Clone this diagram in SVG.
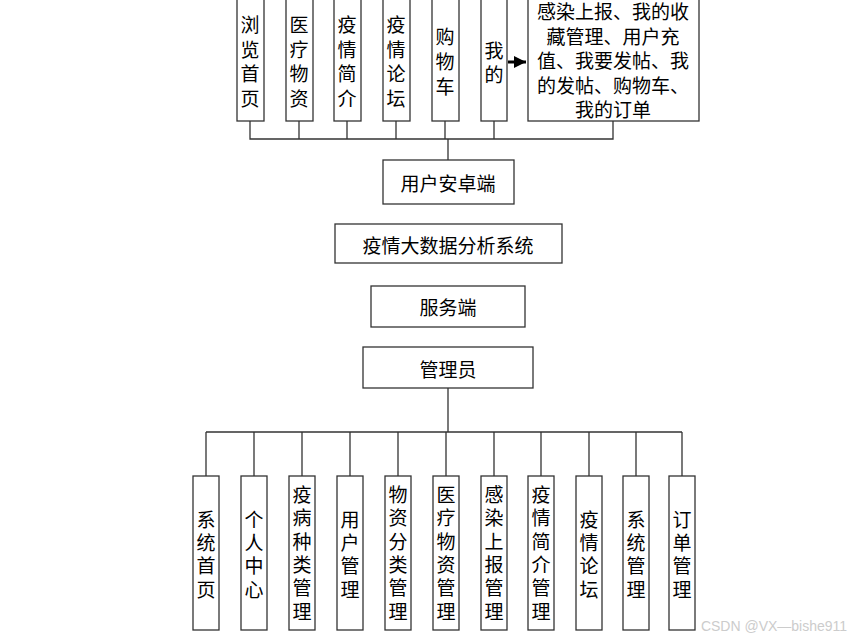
<svg xmlns="http://www.w3.org/2000/svg" width="863" height="642" viewBox="0 0 863 642">
<defs>
<style>
.b{fill:#fff;stroke:#333;stroke-width:1.3}
.l{fill:none;stroke:#333;stroke-width:1.3}
text{font-family:"Noto Sans CJK SC","Liberation Sans",sans-serif;font-size:19px;fill:#000;text-anchor:middle;dominant-baseline:central}
</style>
<marker id="ah" viewBox="0 0 10 10" refX="10" refY="5" markerWidth="4" markerHeight="4" orient="auto"><path d="M0,0L10,5L0,10z" fill="#000"/></marker>
</defs>
<rect width="863" height="642" fill="#fff"/>
<g id="connectors">
<path class="l" d="M250,121V139H613V121M299,121V139M347,121V139M396,121V139M445,121V139M494,121V139M448,139V160"/>
<path class="l" d="M448,388V432M206,432H682M206,432V476M254,432V476M302,432V476M350,432V476M398,432V476M446,432V476M494,432V476M541,432V476M589,432V476M636,432V476M682,432V476"/>
<path d="M508,62H526" stroke="#000" stroke-width="3" marker-end="url(#ah)"/>
</g>
<g id="t1"><rect class="b" x="237" y="-1" width="27" height="122"/><text x="250" y="23">浏</text><text x="250" y="48">览</text><text x="250" y="72">首</text><text x="250" y="97">页</text></g>
<g id="t2"><rect class="b" x="286" y="-1" width="27" height="122"/><text x="299" y="23">医</text><text x="299" y="48">疗</text><text x="299" y="72">物</text><text x="299" y="97">资</text></g>
<g id="t3"><rect class="b" x="334" y="-1" width="27" height="122"/><text x="347" y="23">疫</text><text x="347" y="48">情</text><text x="347" y="72">简</text><text x="347" y="97">介</text></g>
<g id="t4"><rect class="b" x="383" y="-1" width="27" height="122"/><text x="396" y="23">疫</text><text x="396" y="48">情</text><text x="396" y="72">论</text><text x="396" y="97">坛</text></g>
<g id="t5"><rect class="b" x="432" y="-1" width="27" height="122"/><text x="445" y="35">购</text><text x="445" y="60">物</text><text x="445" y="85">车</text></g>
<g id="t6"><rect class="b" x="481" y="-1" width="26" height="122"/><text x="494" y="49">我</text><text x="494" y="73">的</text></g>
<g id="t7"><rect class="b" x="528" y="-1" width="171" height="122"/><text x="613" y="10">感染上报、我的收</text><text x="613" y="35">藏管理、用户充</text><text x="613" y="59">值、我要发帖、我</text><text x="613" y="84">的发帖、购物车、</text><text x="613" y="108">我的订单</text></g>
<g id="user"><rect class="b" x="383" y="160" width="131" height="44"/><text x="448" y="182">用户安卓端</text></g>
<g id="sys"><rect class="b" x="335" y="224" width="227" height="39"/><text x="448" y="244">疫情大数据分析系统</text></g>
<g id="server"><rect class="b" x="371" y="286" width="154" height="41"/><text x="448" y="306">服务端</text></g>
<g id="admin"><rect class="b" x="363" y="347" width="170" height="41"/><text x="448" y="368">管理员</text></g>
<g id="b1"><rect class="b" x="193" y="476" width="26" height="154"/><text x="206" y="518">系</text><text x="206" y="541">统</text><text x="206" y="564">首</text><text x="206" y="588">页</text></g>
<g id="b2"><rect class="b" x="241" y="476" width="26" height="154"/><text x="254" y="518">个</text><text x="254" y="541">人</text><text x="254" y="564">中</text><text x="254" y="588">心</text></g>
<g id="b3"><rect class="b" x="289" y="476" width="26" height="154"/><text x="302" y="493">疫</text><text x="302" y="516">病</text><text x="302" y="540">种</text><text x="302" y="563">类</text><text x="302" y="586">管</text><text x="302" y="610">理</text></g>
<g id="b4"><rect class="b" x="337" y="476" width="26" height="154"/><text x="350" y="518">用</text><text x="350" y="541">户</text><text x="350" y="564">管</text><text x="350" y="588">理</text></g>
<g id="b5"><rect class="b" x="385" y="476" width="26" height="154"/><text x="398" y="493">物</text><text x="398" y="516">资</text><text x="398" y="540">分</text><text x="398" y="563">类</text><text x="398" y="586">管</text><text x="398" y="610">理</text></g>
<g id="b6"><rect class="b" x="433" y="476" width="26" height="154"/><text x="446" y="493">医</text><text x="446" y="516">疗</text><text x="446" y="540">物</text><text x="446" y="563">资</text><text x="446" y="586">管</text><text x="446" y="610">理</text></g>
<g id="b7"><rect class="b" x="481" y="476" width="26" height="154"/><text x="494" y="493">感</text><text x="494" y="516">染</text><text x="494" y="540">上</text><text x="494" y="563">报</text><text x="494" y="586">管</text><text x="494" y="610">理</text></g>
<g id="b8"><rect class="b" x="528" y="476" width="26" height="154"/><text x="541" y="493">疫</text><text x="541" y="516">情</text><text x="541" y="540">简</text><text x="541" y="563">介</text><text x="541" y="586">管</text><text x="541" y="610">理</text></g>
<g id="b9"><rect class="b" x="576" y="476" width="26" height="154"/><text x="589" y="518">疫</text><text x="589" y="541">情</text><text x="589" y="564">论</text><text x="589" y="588">坛</text></g>
<g id="b10"><rect class="b" x="623" y="476" width="26" height="154"/><text x="636" y="518">系</text><text x="636" y="541">统</text><text x="636" y="564">管</text><text x="636" y="588">理</text></g>
<g id="b11"><rect class="b" x="669" y="476" width="26" height="154"/><text x="682" y="518">订</text><text x="682" y="541">单</text><text x="682" y="564">管</text><text x="682" y="588">理</text></g>
<text x="774" y="626" style="font-family:'Liberation Sans',sans-serif;font-size:14px;fill:#ccc">CSDN @VX—bishe911</text>
</svg>
